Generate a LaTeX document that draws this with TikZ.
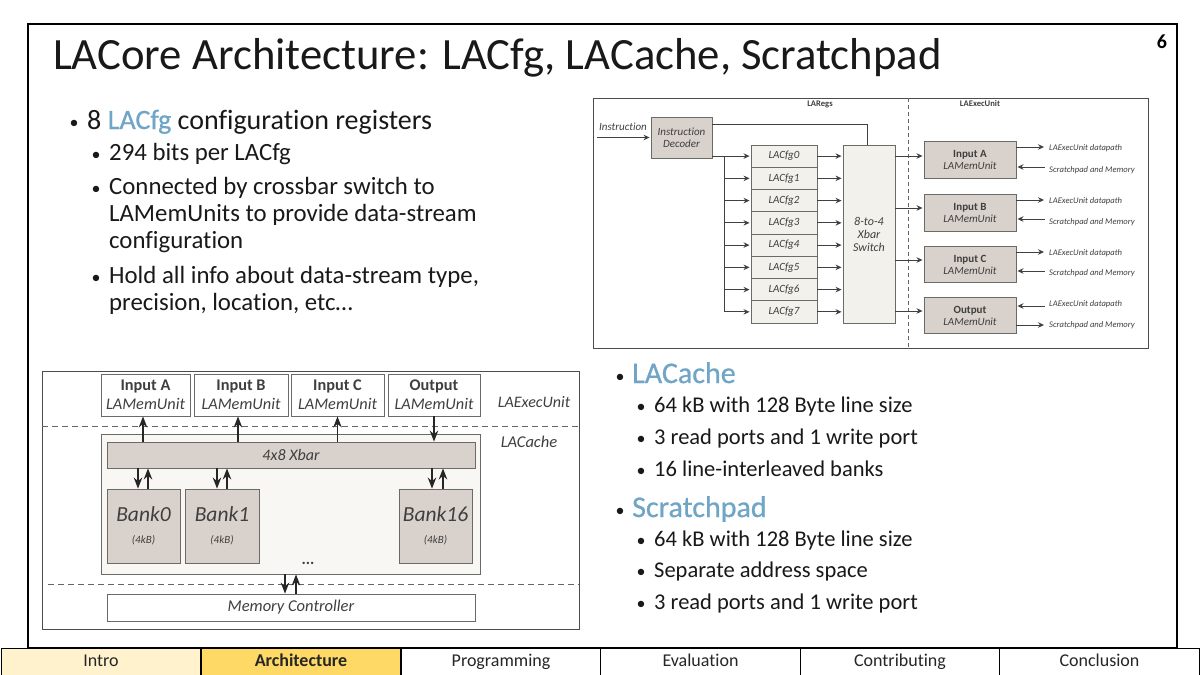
\documentclass[tikz,border=0pt]{standalone}
\usepackage{fontspec}
\setmainfont[Ligatures=NoCommon]{Carlito}
\newfontfamily\headfont[FakeBold=0.7,Ligatures=NoCommon]{Carlito}
\usetikzlibrary{arrows.meta}
\definecolor{boxbrown}{HTML}{D9D1CC}
\definecolor{boxpale}{HTML}{F3F1EC}
\definecolor{boxline}{HTML}{6A6A66}
\definecolor{inktext}{HTML}{3F3F3F}
\definecolor{headblue}{HTML}{6FA5C6}
\definecolor{tabpale}{HTML}{FFF2CC}
\definecolor{tabgold}{HTML}{FFD966}
\newcommand{\fsz}[1]{\fontsize{#1}{#1}\selectfont}
\begin{document}
\begin{tikzpicture}[
	x=1pt,y=-1pt,
	box/.style={draw=boxline,line width=0.9pt,inner sep=0pt,align=center,text=inktext},
	brownbox/.style={box,fill=boxbrown},
	palebox/.style={box,fill=boxpale},
	whitebox/.style={box,fill=white},
	outerbox/.style={draw=black!70,line width=0.9pt,fill=white,inner sep=0pt},
	wire/.style={draw=black!75,line width=1pt},
	wirearrow/.style={wire,-{Stealth[length=6pt,width=5.5pt]},shorten >=1pt},
	bigarrow/.style={draw=black!85,line width=1.2pt,-{Stealth[length=11pt,width=8.5pt]}},
	divider/.style={draw=black!60,line width=0.9pt,dashed,dash pattern=on 6pt off 4pt},
	tiny/.style={font=\fsz{8.6}\itshape,text=inktext,inner sep=0pt,anchor=base west},
	lineone/.style={font=\fsz{28},anchor=base west,inner sep=0pt,text=black!90},
	linetwo/.style={font=\fsz{24.8},anchor=base west,inner sep=0pt,text=black!90},
	linethree/.style={font=\fsz{22.5},anchor=base west,inner sep=0pt,text=black!90},
	linehead/.style={lineone,font=\fsz{30}\headfont,text=headblue},
	bull/.style={font=\fsz{18},anchor=base,inner sep=0pt,text=black!90},
	tab/.style={draw=black,line width=0.8pt,minimum width=199.6pt,minimum height=28pt,inner sep=0pt,font=\fsz{18},text=black!85,text height=12pt,text depth=3.5pt}
	]
	\useasboundingbox (0,0) rectangle (1200,675);
	\fill[white] (0,0) rectangle (1200,675);
	% slide frame and heading
	\node[draw=black,line width=1.2pt,minimum width=1149pt,minimum height=624pt,inner sep=0pt] (frame) at (602.5,336) {};
	\node[font=\fsz{44.7},anchor=base west,inner sep=0pt,text=black!90] (title) at (53,69) {LACore Architecture: LACfg, LACache, Scratchpad};
	\node[font=\fsz{20}\bfseries,inner sep=0pt] (pagenum) at (1162,42) {6};

	% text on the left
	\node[bull] (bA) at (74,128) {•};
	\node[lineone] (tA) at (87,129) {8 \textcolor{headblue}{\headfont LACfg} configuration registers};
	\node[bull] (bB) at (96,160) {•};
	\node[linetwo] (tB) at (109,160) {294 bits per LACfg};
	\node[bull] (bC) at (96,194) {•};
	\node[linetwo] (tC) at (109,194) {Connected by crossbar switch to};
	\node[linetwo] (tD) at (109,221) {LAMemUnits to provide data-stream};
	\node[linetwo] (tE) at (109,248) {configuration};
	\node[bull] (bF) at (96,283) {•};
	\node[linetwo] (tF) at (109,283) {Hold all info about data-stream type,};
	\node[linetwo] (tG) at (109,310) {precision, location, etc…};

	% text on the right
	\node[bull] (bH) at (620,382) {•};
	\node[linehead] (tH) at (632,383) {LACache};
	\node[bull] (bI) at (641,412) {•};
	\node[linethree] (tI) at (654,412) {64 kB with 128 Byte line size};
	\node[bull] (bJ) at (641,444) {•};
	\node[linethree] (tJ) at (654,444) {3 read ports and 1 write port};
	\node[bull] (bK) at (641,476) {•};
	\node[linethree] (tK) at (654,476) {16 line-interleaved banks};
	\node[bull] (bL) at (620,516) {•};
	\node[linehead] (tL) at (632,517) {Scratchpad};
	\node[bull] (bM) at (641,546) {•};
	\node[linethree] (tM) at (654,546) {64 kB with 128 Byte line size};
	\node[bull] (bN) at (641,577) {•};
	\node[linethree] (tN) at (654,577) {Separate address space};
	\node[bull] (bO) at (641,609) {•};
	\node[linethree] (tO) at (654,609) {3 read ports and 1 write port};

	% LAregs figure
	\node[outerbox,minimum width=555pt,minimum height=250pt] (regfig) at (870.5,223) {};
	\coordinate (dashtop) at (908,98);
	\coordinate (dashbot) at (908,348);
	\draw[divider,line width=0.8pt,dash pattern=on 4pt off 3pt] (dashtop) -- (dashbot);
	\node[font=\fsz{8.6}\bfseries,text=inktext,inner sep=0pt] (regslabel) at (820,104) {LARegs};
	\node[font=\fsz{8.6}\bfseries,text=inktext,inner sep=0pt] (execlabel) at (980,104) {LAExecUnit};
	\node[brownbox,minimum width=61pt,minimum height=41pt,font=\fsz{11}\itshape] (decoder) at (681.5,137.5) {Instruction\\[1pt]Decoder};
	\node[palebox,minimum width=52pt,minimum height=178pt,font=\fsz{12}\itshape] (xbar) at (869,234) {8-to-4\\[1pt]Xbar\\[1pt]Switch};
	\coordinate (instin) at (597,137.5);
	\node[font=\fsz{11}\itshape,text=inktext,inner sep=0pt] (instlabel) at (623,127) {Instruction};
	\draw[wirearrow] (instin) -- (decoder.west);
	\coordinate (deccorner) at (867,124);
	\draw[wire] (decoder.east |- deccorner) -- (deccorner) -- (deccorner |- xbar.north);
	\coordinate (bustop) at (724,156);
	\foreach \i in {0,...,7} {
		\node[palebox,minimum width=66pt,minimum height=22.25pt,font=\fsz{11}\itshape] (cfg\i) at (784,{156.1+22.25*\i}) {LACfg\i};
		\draw[wirearrow] (bustop |- cfg\i.west) -- (cfg\i.west);
		\draw[wirearrow] (cfg\i.east) -- (xbar.west |- cfg\i.east);
	}
	\draw[wire] (decoder.east |- bustop) -- (bustop) -- (bustop |- cfg7.west);
	\foreach \n/\a/\cy/\ax/\up/\dn/\lu/\ld in {inA/Input A/160/156/147/167/148/170,inB/Input B/213/208/200/219/201/222,inC/Input C/264.5/260/252/271/253/273} {
		\node[brownbox,minimum width=92pt,minimum height=36.5pt,font=\fsz{11}] (\n) at (970,\cy) {\textbf{\a}\\[1pt]\textit{LAMemUnit}};
		\coordinate (\n x) at (895,\ax);
		\draw[wirearrow] (\n x) -- (\n.west |- \n x);
		\coordinate (\n o) at (1045,\up);
		\coordinate (\n i) at (1045,\dn);
		\draw[wirearrow] (\n.east |- \n o) -- (\n o);
		\draw[wirearrow] (\n i) -- (\n.east |- \n i);
		\node[tiny] (\n t) at (1049,\lu+2.5) {LAExecUnit datapath};
		\node[tiny] (\n s) at (1049,\ld+2.5) {Scratchpad and Memory};
	}
	\node[brownbox,minimum width=92pt,minimum height=36.5pt,font=\fsz{11}] (outU) at (970,315.5) {\textbf{Output}\\[1pt]\textit{LAMemUnit}};
	\coordinate (outUx) at (895,311);
	\draw[wirearrow] (outUx) -- (outU.west |- outUx);
	\coordinate (outUi) at (1045,306);
	\coordinate (outUo) at (1045,325);
	\draw[wirearrow] (outUi) -- (outU.east |- outUi);
	\draw[wirearrow] (outU.east |- outUo) -- (outUo);
	\node[tiny] (outUt) at (1049,306.5) {LAExecUnit datapath};
	\node[tiny] (outUs) at (1049,327.5) {Scratchpad and Memory};

	% LACache figure
	\node[outerbox,minimum width=537pt,minimum height=258pt] (cachefig) at (310.5,500) {};
	\node[palebox,fill=boxpale!60,minimum width=379pt,minimum height=140pt] (cachebody) at (290.5,504) {};
	\coordinate (dashA) at (42,426);
	\coordinate (dashB) at (579,426);
	\coordinate (dashC) at (48,584);
	\coordinate (dashD) at (579,584);
	\draw[divider] (dashA) -- (dashB);
	\draw[divider] (dashC) -- (dashD);
	\node[whitebox,minimum width=89pt,minimum height=42pt,font=\fsz{16.3}] (portA) at (145.5,395) {\textbf{Input A}\\[3pt]\textit{LAMemUnit}};
	\node[whitebox,minimum width=94pt,minimum height=42pt,font=\fsz{16.3}] (portB) at (241,395) {\textbf{Input B}\\[3pt]\textit{LAMemUnit}};
	\node[whitebox,minimum width=93pt,minimum height=42pt,font=\fsz{16.3}] (portC) at (337.5,395) {\textbf{Input C}\\[3pt]\textit{LAMemUnit}};
	\node[whitebox,minimum width=92pt,minimum height=42pt,font=\fsz{16.3}] (portO) at (434,395) {\textbf{Output}\\[3pt]\textit{LAMemUnit}};
	\node[font=\fsz{16}\itshape,text=inktext,inner sep=0pt] (execname) at (534,402) {LAExecUnit};
	\node[font=\fsz{16.5}\itshape,text=inktext,inner sep=0pt] (cachename) at (529,442) {LACache};
	\node[brownbox,minimum width=368pt,minimum height=26pt,font=\fsz{16}\itshape] (cachexbar) at (291,455) {4x8 Xbar};
	\node[brownbox,minimum width=73pt,minimum height=74pt,font=\fsz{21.5}\itshape] (bank0) at (143.5,526) {Bank0\\[0pt]{\fsz{11}(4kB)}};
	\node[brownbox,minimum width=74pt,minimum height=74pt,font=\fsz{21.5}\itshape] (bank1) at (222,526) {Bank1\\[0pt]{\fsz{11}(4kB)}};
	\node[brownbox,minimum width=73pt,minimum height=74pt,font=\fsz{21.5}\itshape] (bank16) at (435.5,526) {Bank16\\[0pt]{\fsz{11}(4kB)}};
	\node[font=\fsz{16}\bfseries,text=inktext,inner sep=0pt] (bankdots) at (308,563) {...};
	\node[whitebox,minimum width=368pt,minimum height=27pt,font=\fsz{16.5}\itshape] (memctl) at (291,607.5) {Memory Controller};
	\draw[bigarrow] ([xshift=-2.5pt]portA.south |- cachexbar.north) -- ([xshift=-2.5pt]portA.south);
	\draw[bigarrow] ([xshift=-3pt]portB.south |- cachexbar.north) -- ([xshift=-3pt]portB.south);
	\draw[bigarrow] (portC.south |- cachexbar.north) -- (portC.south);
	\draw[bigarrow] (portO.south) -- (portO.south |- cachexbar.north);
	\draw[bigarrow] ([xshift=-5.5pt]bank0.north |- cachexbar.south) -- ([xshift=-5.5pt]bank0.north);
	\draw[bigarrow] ([xshift=4.5pt]bank0.north) -- ([xshift=4.5pt]bank0.north |- cachexbar.south);
	\draw[bigarrow] ([xshift=-5pt]bank1.north |- cachexbar.south) -- ([xshift=-5pt]bank1.north);
	\draw[bigarrow] ([xshift=5pt]bank1.north) -- ([xshift=5pt]bank1.north |- cachexbar.south);
	\draw[bigarrow] ([xshift=-3.5pt]bank16.north |- cachexbar.south) -- ([xshift=-3.5pt]bank16.north);
	\draw[bigarrow] ([xshift=7.5pt]bank16.north) -- ([xshift=7.5pt]bank16.north |- cachexbar.south);
	\draw[bigarrow] ([xshift=-6pt]memctl.north |- cachebody.south) -- ([xshift=-6pt]memctl.north);
	\draw[bigarrow] ([xshift=5pt]memctl.north) -- ([xshift=5pt]memctl.north |- cachebody.south);

	% tabs along the bottom
	\node[tab,fill=tabpale] (tabintro) at (101,662) {Intro};
	\node[tab] (tabprog) at (501,662) {Programming};
	\node[tab] (tabeval) at (700.5,662) {Evaluation};
	\node[tab] (tabcontrib) at (900,662) {Contributing};
	\node[tab] (tabconcl) at (1099.5,662) {Conclusion};
	\node[tab,fill=tabgold,line width=2.4pt,font=\fsz{18}\bfseries] (tabarch) at (301,662) {Architecture};
\end{tikzpicture}
\end{document}
